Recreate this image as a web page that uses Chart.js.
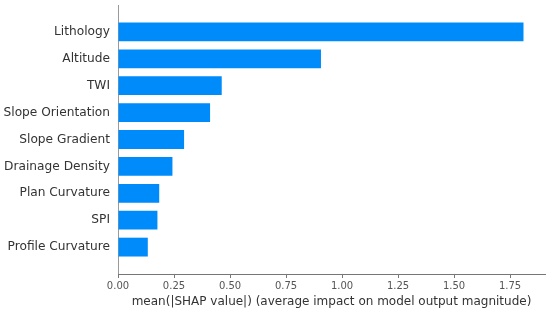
<!DOCTYPE html>
<html>
<head>
<meta charset="utf-8">
<script src="https://cdn.jsdelivr.net/npm/chart.js@4/dist/chart.umd.min.js"></script>
<style>
  html, body { margin: 0; padding: 0; background: #fff; }
  .wrap { width: 550px; height: 311px; }
</style>
</head>
<body>
<div class="wrap"><canvas id="shap"></canvas></div>
<script>
// features, most important first
const features = ['Lithology', 'Altitude', 'TWI', 'Slope Orientation', 'Slope Gradient',
  'Drainage Density', 'Plan Curvature', 'SPI', 'Profile Curvature'];
const shapValues = [1.81, 0.906, 0.463, 0.411, 0.295, 0.243, 0.184, 0.176, 0.133];
const xTicks = [0, 0.25, 0.5, 0.75, 1.0, 1.25, 1.5, 1.75];
const xMax = 1.906;
const xTitle = 'mean(|SHAP value|) (average impact on model output magnitude)';

// one empty slot above and below, like the shap plot leaves
const labels = [''].concat(features, ['']);
const values = [null].concat(shapValues, [null]);

const font = 'DejaVu Sans';

new Chart(document.getElementById('shap'), {
  type: 'bar',
  data: {
    labels: labels,
    datasets: [{
      data: values,
      backgroundColor: '#008bfb',
      borderWidth: 0,
      barPercentage: 0.7,
      categoryPercentage: 1.0
    }]
  },
  options: {
    indexAxis: 'y',
    responsive: true,
    maintainAspectRatio: false,
    animation: false,
    layout: { padding: { top: 5, right: 5, left: 0, bottom: 0 } },
    plugins: {
      legend: { display: false },
      tooltip: { enabled: false }
    },
    scales: {
      y: {
        offset: false,
        grid: { display: false, drawTicks: false },
        border: { display: true, color: '#9a9a9a', width: 1 },
        ticks: {
          color: '#333',
          padding: 8,
          autoSkip: false,
          font: { family: font, size: 12.2 }
        },
        afterFit: (scale) => {
          scale.width = 118;
          scale.paddingTop = 0;
          scale.paddingBottom = 0;
        }
      },
      x: {
        min: 0,
        max: xMax,
        grid: {
          display: true,
          drawOnChartArea: false,
          drawTicks: true,
          tickLength: 4,
          tickColor: '#777'
        },
        border: { display: true, color: '#777', width: 1 },
        afterBuildTicks: (scale) => {
          scale.ticks = xTicks.map(v => ({ value: v }));
        },
        ticks: {
          color: '#555',
          padding: 2,
          font: { family: font, size: 10 },
          callback: (v) => Number(v).toFixed(2)
        },
        title: {
          display: true,
          text: xTitle,
          color: '#333',
          font: { family: font, size: 12 },
          padding: { top: 0, bottom: 1.5 }
        },
        afterFit: (scale) => { scale.height = 37; }
      }
    }
  }
});
</script>
</body>
</html>
